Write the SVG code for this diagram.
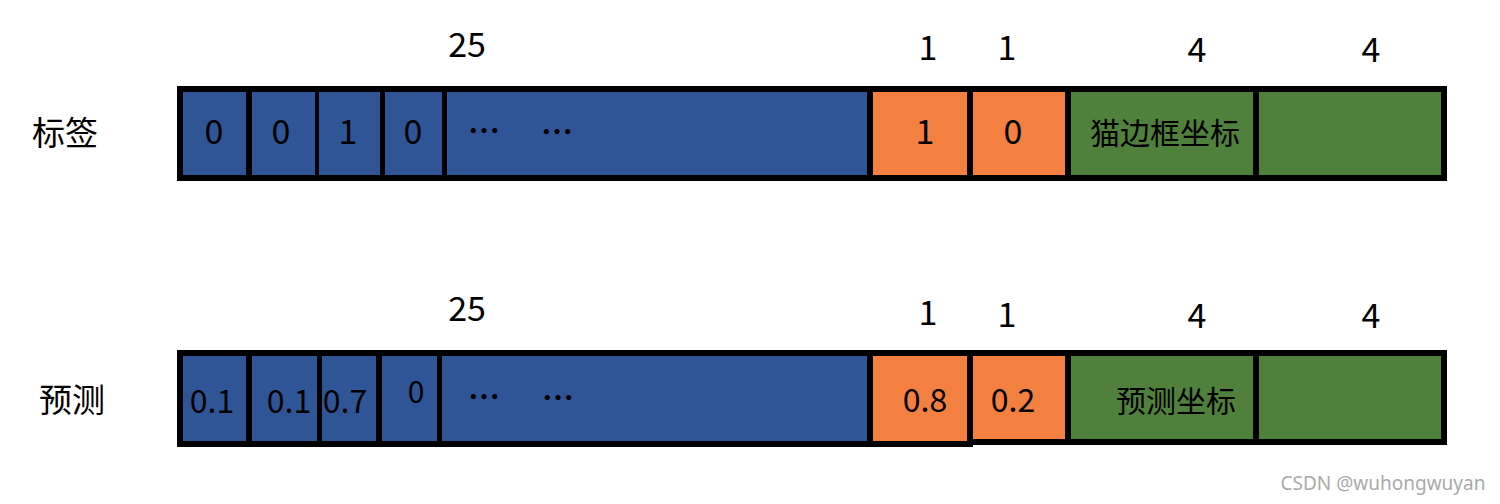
<svg xmlns="http://www.w3.org/2000/svg" width="1500" height="504" viewBox="0 0 1500 504">
<style>
.t{font-family:"Noto Sans CJK SC","Noto Sans",sans-serif;fill:#000;text-anchor:middle}
.e{font-family:"Noto Sans CJK SC","Noto Sans",sans-serif;fill:#000;text-anchor:middle;font-size:32px;font-weight:bold}
.b{fill:#2F5597}
.o{fill:#F37F40}
.g{fill:#4F813D}
.k{fill:#000}
</style>
<rect width="1500" height="504" fill="#fff"/>
<g id="row-label">
<text class="t" x="65" y="145" font-size="33">标签</text>
<rect class="k" x="177" y="86" width="1270" height="95"/>
<g id="l-c1"><rect class="b" x="183" y="92" width="63" height="83"/><text class="t" x="214" y="144" font-size="34">0</text></g>
<g id="l-c2"><rect class="b" x="252" y="92" width="63" height="83"/><text class="t" x="281" y="144" font-size="34">0</text></g>
<g id="l-c3"><rect class="b" x="319" y="92" width="61" height="83"/><text class="t" x="348" y="144" font-size="34">1</text></g>
<g id="l-c4"><rect class="b" x="385" y="92" width="57" height="83"/><text class="t" x="413" y="144" font-size="34">0</text></g>
<g id="l-c5"><rect class="b" x="447" y="92" width="420" height="83"/><text class="e" x="484" y="143">…</text><text class="e" x="557" y="144">…</text></g>
<g id="l-o1"><rect class="o" x="873" y="92" width="94" height="83"/><text class="t" x="925" y="144" font-size="34">1</text></g>
<g id="l-o2"><rect class="o" x="973" y="92" width="92" height="83"/><text class="t" x="1013" y="144" font-size="34">0</text></g>
<g id="l-g1"><rect class="g" x="1071" y="92" width="182" height="83"/><text class="t" x="1165" y="144" font-size="30">猫边框坐标</text></g>
<g id="l-g2"><rect class="g" x="1259" y="92" width="182" height="83"/></g>
</g>
<g id="counts-top">
<text class="t" x="467" y="57" font-size="34">25</text>
<text class="t" x="928" y="60" font-size="34">1</text>
<text class="t" x="1007" y="60" font-size="34">1</text>
<text class="t" x="1197" y="62" font-size="34">4</text>
<text class="t" x="1371" y="62" font-size="34">4</text>
</g>
<g id="row-pred">
<text class="t" x="72" y="412" font-size="33">预测</text>
<rect class="k" x="177" y="350" width="796" height="97"/>
<rect class="k" x="967" y="350" width="480" height="95"/>
<g id="p-c1"><rect class="b" x="183" y="356" width="63" height="85"/><text class="t" x="212" y="413" font-size="32">0.1</text></g>
<g id="p-c2"><rect class="b" x="252" y="356" width="65" height="85"/><text class="t" x="289" y="413" font-size="32">0.1</text></g>
<g id="p-c3"><rect class="b" x="322" y="356" width="54" height="85"/><text class="t" x="345" y="413" font-size="32">0.7</text></g>
<g id="p-c4"><rect class="b" x="382" y="356" width="55" height="85"/><text class="t" x="416" y="403" font-size="30">0</text></g>
<g id="p-c5"><rect class="b" x="442" y="356" width="425" height="85"/><text class="e" x="484" y="409">…</text><text class="e" x="558" y="410">…</text></g>
<g id="p-o1"><rect class="o" x="873" y="356" width="94" height="85"/><text class="t" x="925" y="412" font-size="32">0.8</text></g>
<g id="p-o2"><rect class="o" x="973" y="356" width="92" height="83"/><text class="t" x="1013" y="412" font-size="32">0.2</text></g>
<g id="p-g1"><rect class="g" x="1071" y="356" width="182" height="83"/><text class="t" x="1176" y="412" font-size="30">预测坐标</text></g>
<g id="p-g2"><rect class="g" x="1259" y="356" width="182" height="83"/></g>
</g>
<g id="counts-bottom">
<text class="t" x="467" y="321" font-size="34">25</text>
<text class="t" x="928" y="325" font-size="34">1</text>
<text class="t" x="1007" y="327" font-size="34">1</text>
<text class="t" x="1197" y="328" font-size="34">4</text>
<text class="t" x="1371" y="328" font-size="34">4</text>
</g>
<text x="1383" y="490" font-family="Noto Sans, sans-serif" font-size="19" fill="#aaa" text-anchor="middle">CSDN @wuhongwuyan</text>
</svg>
